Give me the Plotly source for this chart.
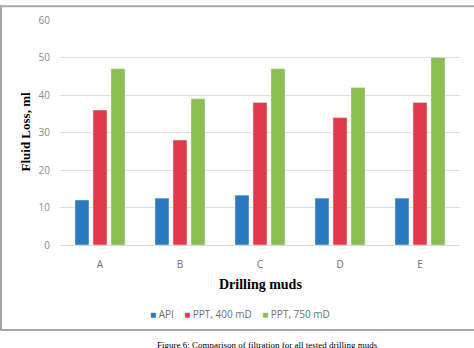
import plotly.graph_objects as go

categories = ["A", "B", "C", "D", "E"]
api = [12, 12.5, 13.3, 12.5, 12.5]
ppt_400 = [36, 28, 38, 34, 38]
ppt_750 = [47, 39, 47, 42, 50]
y_ticks = [0, 10, 20, 30, 40, 50, 60]
series_names = ["API", "PPT, 400 mD", "PPT, 750 mD"]
series_colors = ["#2A78BE", "#E03B4B", "#8CBD4F"]

W, H = 474, 348
L, R, T, B = 60, 14, 15, 103
pw, ph = W - L - R, H - T - B


def px(x):
    return (x - L) / pw


def py(y):
    return (H - B - y) / ph


fig = go.Figure()
for name, vals, col in zip(series_names, [api, ppt_400, ppt_750], series_colors):
    fig.add_trace(go.Bar(name=name, x=categories, y=vals, marker_color=col))

gray = "#707070"
fig.update_layout(
    width=W, height=H,
    margin=dict(l=L, r=R, t=T, b=B),
    paper_bgcolor="white", plot_bgcolor="white",
    barmode="group", bargap=0.325, bargroupgap=0.22,
    font=dict(family="Open Sans, Liberation Sans, sans-serif", color=gray, size=10),
    xaxis=dict(showgrid=False, showline=True, linecolor="#d9d9d9", ticks="",
               tickfont=dict(size=10, color=gray), ticklabelstandoff=10),
    yaxis=dict(range=[0, 60], tickvals=y_ticks, showgrid=True, gridcolor="#e0e0e0",
               zeroline=False, ticks="", tickfont=dict(size=10, color="#8a8a8a"),
               ticklabelstandoff=9),
    showlegend=False,
)

# legend drawn as one text line with coloured squares
legend_text = "    ".join(
    f'<span style="color:{c}">■</span> {n}' for n, c in zip(series_names, series_colors)
)
fig.add_annotation(text=legend_text, xref="paper", yref="paper", x=px(240), y=py(316),
                   xanchor="center", yanchor="middle", showarrow=False,
                   font=dict(family="Open Sans, Liberation Sans, sans-serif", size=10, color=gray))

serif = "Liberation Serif, Times New Roman, serif"
fig.add_annotation(text="<b>Fluid Loss, ml</b>", textangle=-90, xref="paper", yref="paper",
                   x=px(25), y=py(130), xanchor="center", yanchor="middle", showarrow=False,
                   font=dict(family=serif, size=13, color="black"))
fig.add_annotation(text="<b>Drilling muds</b>", xref="paper", yref="paper",
                   x=px(260), y=py(285), xanchor="center", yanchor="middle", showarrow=False,
                   font=dict(family=serif, size=14, color="black"))
fig.add_annotation(text="Figure 6: Comparison of filtration for all tested drilling muds",
                   xref="paper", yref="paper", x=px(267), y=py(340), xanchor="center",
                   yanchor="top", showarrow=False,
                   font=dict(family=serif, size=9, color="black"))

bc = "#a8a8a8"
fig.add_shape(type="line", xref="paper", yref="paper", x0=px(0), x1=px(W), y0=py(1), y1=py(1),
              line=dict(color=bc, width=2))
fig.add_shape(type="line", xref="paper", yref="paper", x0=px(1), x1=px(1), y0=py(0), y1=py(332),
              line=dict(color=bc, width=2))
fig.add_shape(type="line", xref="paper", yref="paper", x0=px(0), x1=px(W), y0=py(332), y1=py(332),
              line=dict(color=bc, width=2))

fig.write_html("out.html")
